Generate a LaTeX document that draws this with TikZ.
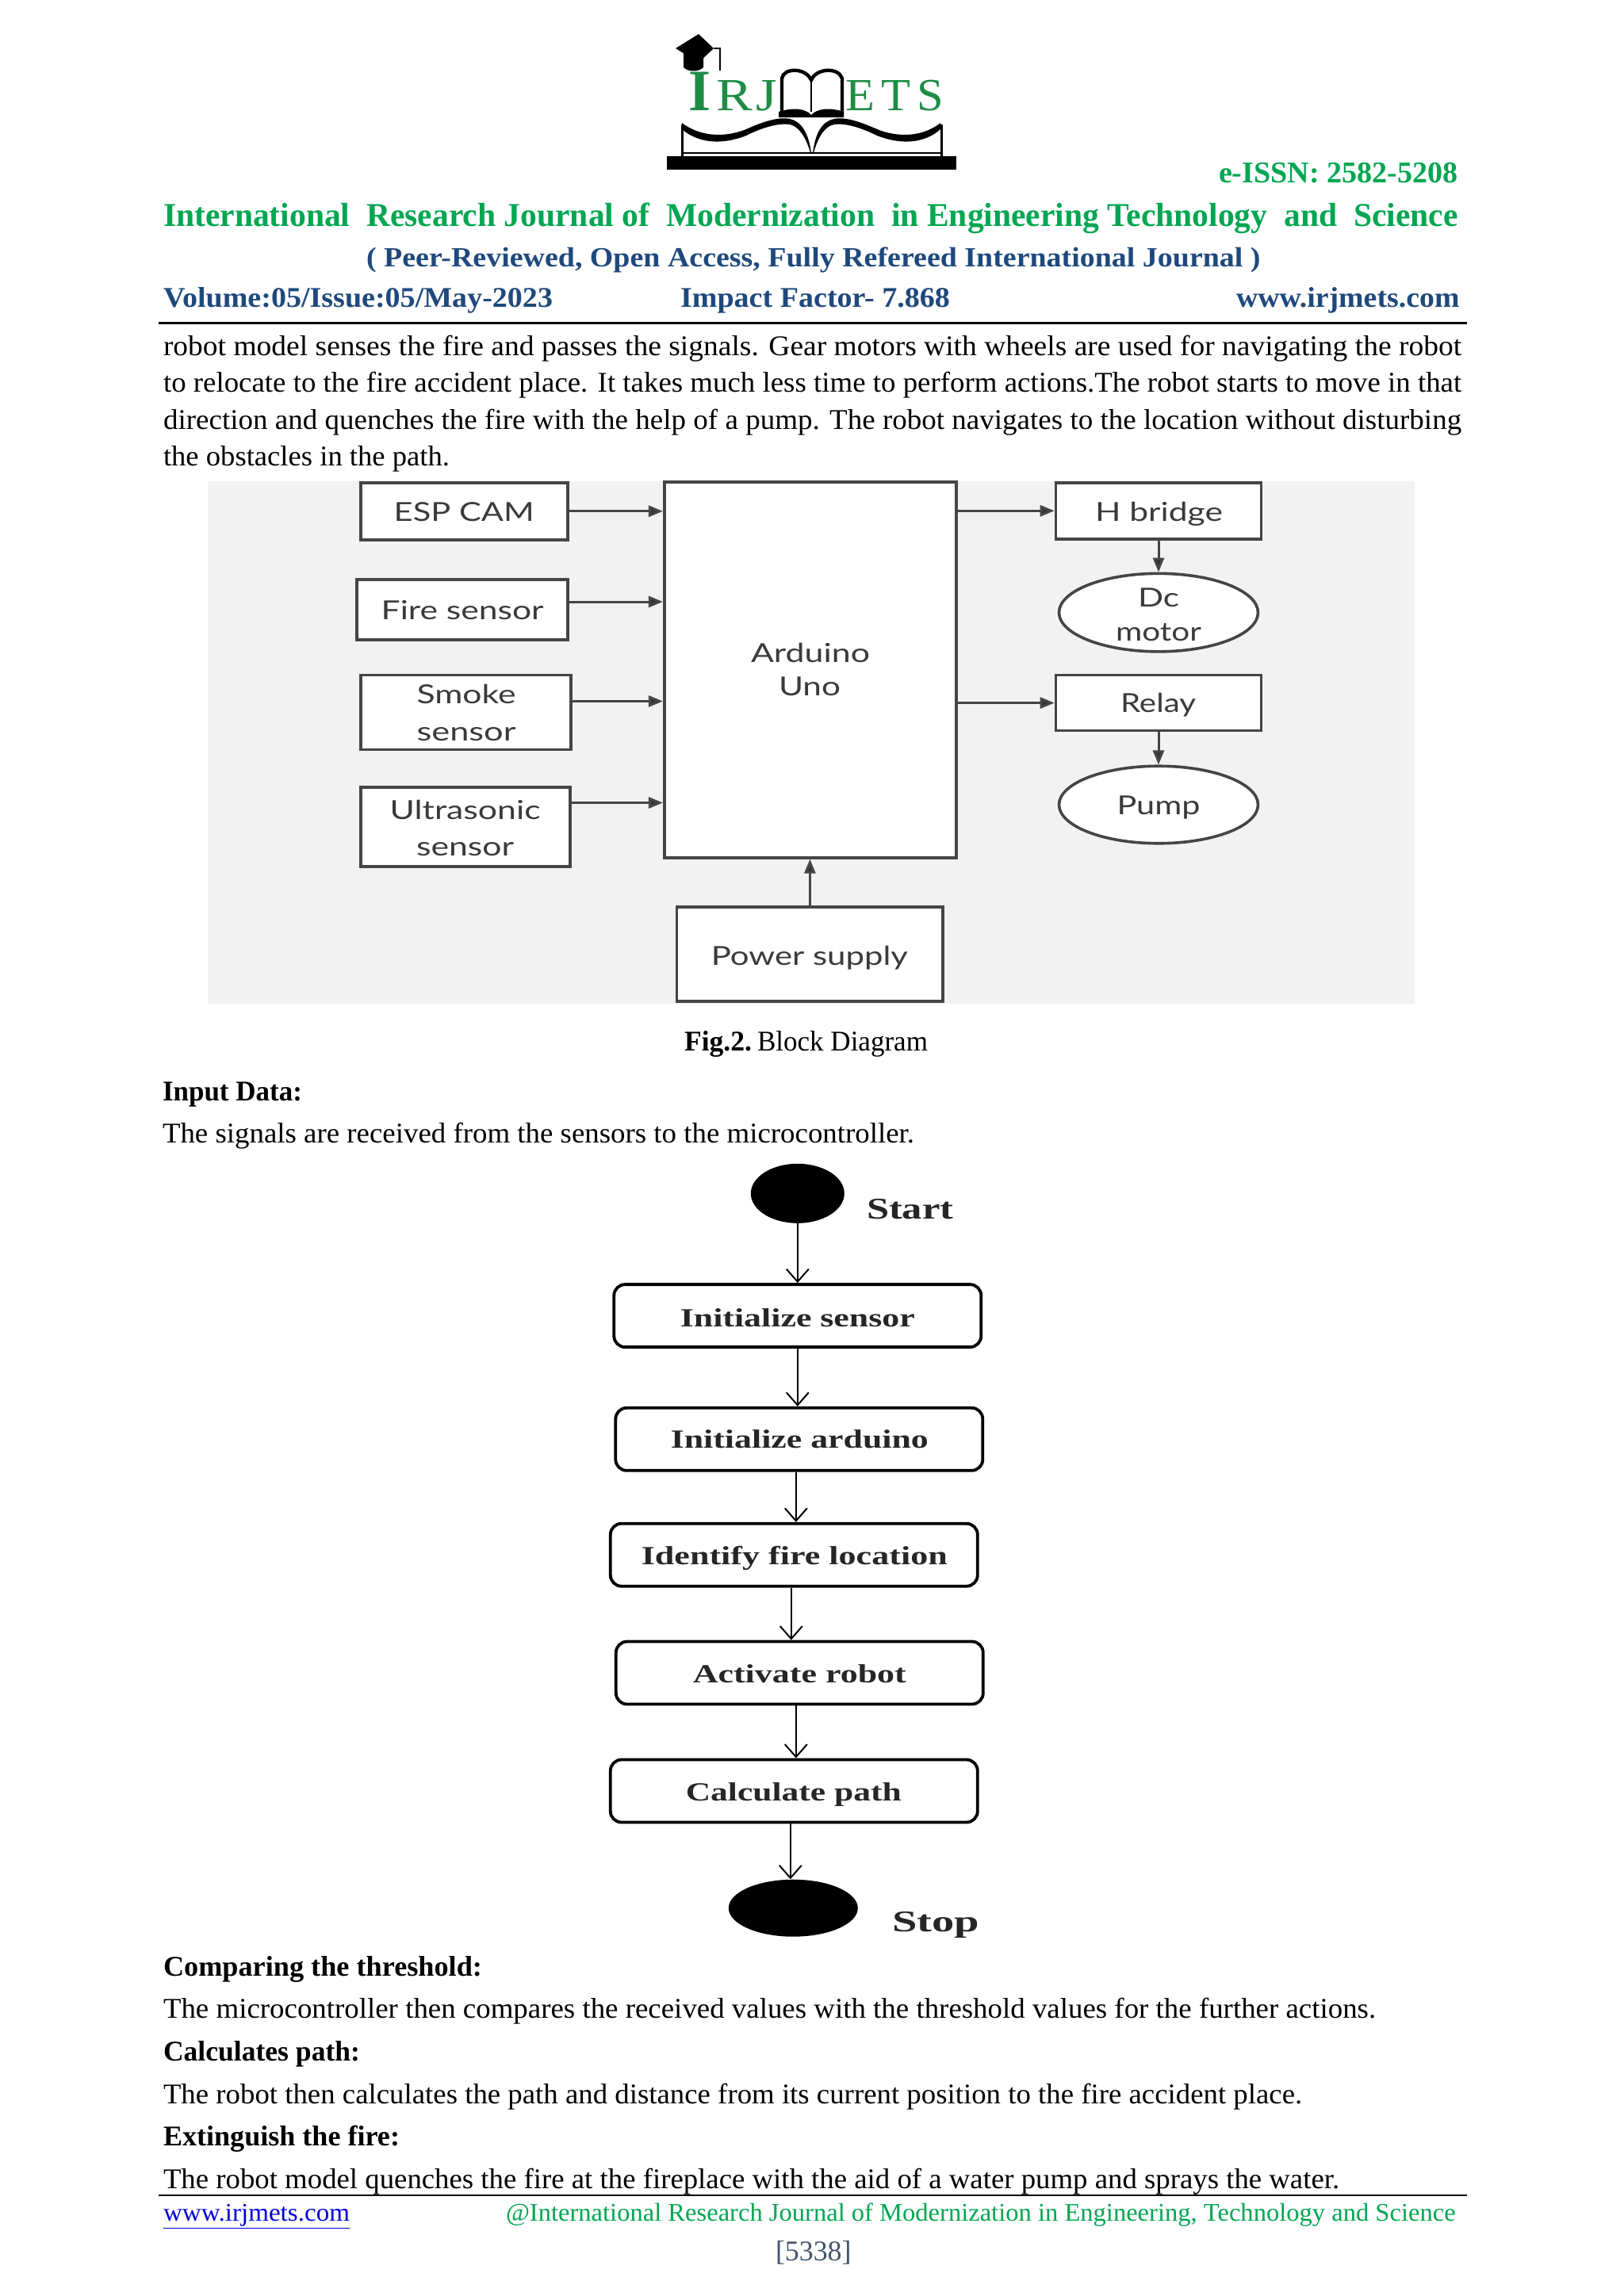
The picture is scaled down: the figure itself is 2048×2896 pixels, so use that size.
\documentclass[tikz,border=0pt]{standalone}
\usepackage{fontspec}
\usepackage{graphicx}
\setmainfont{Liberation Serif}
\newfontfamily\gillish{Lato}
\usetikzlibrary{arrows.meta,shapes.geometric}
\definecolor{hgreen}{HTML}{00A651}
\definecolor{lgreen}{HTML}{1E8C45}
\definecolor{hnavy}{HTML}{1F497D}
\definecolor{pagenum}{HTML}{44546A}
\definecolor{figbg}{HTML}{F2F2F2}
\definecolor{figline}{HTML}{454545}
\definecolor{figtext}{HTML}{3A3A3A}
\newcommand\tx[6]{\node[txt,#5] (#1) at (#2,#4) {\resizebox{\dimexpr(#3pt-#2pt)/2\relax}{\height}{#6}};}
\newcommand\lne[4]{\makebox[0pt][c]{\hspace*{#1pt}\raisebox{\dimexpr#2pt/2\relax}{\resizebox{\dimexpr#3pt/2\relax}{\height}{#4}}}}
\newcommand\fs[1]{\fontsize{#1}{#1}\selectfont}
\tikzset{
  txt/.style={anchor=base west,inner sep=0pt,outer sep=0pt},
  body/.style={font=\fs{18}},
  bodyb/.style={font=\fs{18}\bfseries},
  hdr/.style={font=\fs{18}\bfseries,text=hnavy},
  blk/.style={draw=figline,fill=white,line width=1.8pt,inner sep=0pt,text height=0pt,text depth=0pt,font=\gillish\fs{16.5},text=figtext},
  elp/.style={blk,ellipse},
  arr/.style={draw=figline,line width=1.5pt,-{Triangle[length=9pt,width=7pt,fill=black!80]}},
  flow/.style={draw=black,fill=white,line width=1.9pt,rounded corners=7pt,inner sep=0pt,text height=0pt,text depth=0pt,minimum width=231.5pt,minimum height=39.5pt,font=\fs{16.5}\bfseries,text=black!85},
  term/.style={ellipse,fill=black,inner sep=0pt},
  farr/.style={draw=black,line width=1pt,-{Straight Barb[length=8pt,width=14pt,line width=1pt]}},
}
\begin{document}
\begin{tikzpicture}[x=.5pt,y=-.5pt]
\useasboundingbox (0,0) rectangle (2048,2896);
\fill[white] (0,0) rectangle (2048,2896);
% logo
\begin{scope}[shift={(-4,-1)}]
\fill[black] (885,44) -- (904,62) -- (885,80) -- (856,62) -- cycle;
\fill[black] (866,62) -- (866,86) .. controls (872,92) and (885,92) .. (891,86) -- (891,62) -- cycle;
\draw[black,line width=.8pt] (904,62) -- (912,62) -- (912,90);
\tx{logoI}{872}{900}{140}{font=\fs{37}\bfseries,text=lgreen}{I}
\tx{logoRJ}{907}{984}{140}{font=\fs{29},text=lgreen}{R\kern2pt J}
\tx{logoETS}{1070}{1194}{140}{font=\fs{29},text=lgreen}{E\kern4pt T\kern4pt S}
\draw[black,line width=2.2pt] (990,146) -- (990,100) .. controls (992,86) and (1020,86) .. (1027,102) .. controls (1034,86) and (1062,86) .. (1066,100) -- (1066,146);
\draw[black,line width=1pt] (1027,102) -- (1027,142);
\fill[black] (986,142) .. controls (1005,136) and (1020,138) .. (1027,146) .. controls (1034,138) and (1050,136) .. (1068,142) -- (1068,149) -- (986,149) -- cycle;
\fill[black] (864,156) .. controls (885,172) and (915,176) .. (945,164) .. controls (965,155) and (985,148) .. (1000,151) .. controls (1015,154) and (1024,170) .. (1027,194) -- (1029,194) .. controls (1032,170) and (1040,154) .. (1056,151) .. controls (1070,148) and (1090,155) .. (1110,164) .. controls (1140,176) and (1170,172) .. (1190,156) -- (1190,164) .. controls (1170,182) and (1140,184) .. (1110,172) .. controls (1090,162) and (1070,156) .. (1056,158) .. controls (1045,160) and (1036,172) .. (1030,194) -- (1026,194) .. controls (1020,172) and (1010,160) .. (1000,158) .. controls (985,156) and (965,162) .. (945,172) .. controls (915,184) and (885,182) .. (864,164) -- cycle;
\draw[black,line width=1.5pt] (864,158) -- (864,198) (1191,158) -- (1191,198);
\draw[black,line width=.6pt] (864,194) -- (1191,194);
\fill[black] (845,198) rectangle (1210,215);
\end{scope}
% header
\tx{issn}{1537}{1838.5}{230}{font=\fs{19}\bfseries,text=hgreen}{e-ISSN: 2582-5208}
\tx{journal}{206}{1838.5}{285}{font=\fs{21}\bfseries,text=hgreen}{International\ \ Research Journal of\ \ Modernization\ \ in Engineering Technology\ \ and\ \ Science}
\tx{peer}{462}{1589.5}{336.7}{font=\fs{17.5}\bfseries,text=hnavy}{( Peer-Reviewed, Open Access, Fully Refereed International Journal )}
\tx{vol}{206}{697}{387.5}{hdr}{Volume:05/Issue:05/May-2023}
\tx{impact}{858}{1198}{387.5}{hdr}{Impact Factor- 7.868}
\tx{web}{1559}{1840.5}{387.5}{hdr}{www.irjmets.com}
\draw[black,line width=1.2pt] (200,407.5) -- (1849.5,407.5);
% paragraph
\tx{p1}{206}{1843}{448}{body}{robot model senses the fire and passes the signals. Gear motors with wheels are used for navigating the robot}
\tx{p2}{206}{1843}{494}{body}{to relocate to the fire accident place. It takes much less time to perform actions.The robot starts to move in that}
\tx{p3}{206}{1843}{541}{body}{direction and quenches the fire with the help of a pump. The robot navigates to the location without disturbing}
\tx{p4}{206}{567}{587}{body}{the obstacles in the path.}
% block diagram
\fill[figbg] (262,607) rectangle (1784,1266);
\node[blk,rectangle,minimum width=130.5pt,minimum height=36pt] (esp) at (585.7,644.8) {\lne{-.5}{-13}{177}{ESP CAM}};
\node[blk,rectangle,minimum width=133pt,minimum height=38pt] (fire) at (583.2,769) {\lne{0}{-12}{205}{Fire sensor}};
\node[blk,rectangle,minimum width=132.5pt,minimum height=47pt] (smoke) at (587.6,898.5) {\lne{.5}{11}{125}{Smoke}\lne{.5}{-36}{125}{sensor}};
\node[blk,rectangle,minimum width=132pt,minimum height=50.25pt] (ultra) at (587.1,1043) {\lne{-.5}{9.5}{190}{Ultrasonic}\lne{-.5}{-36.5}{123}{sensor}};
\node[blk,rectangle,minimum width=184.25pt,minimum height=237pt] (ard) at (1022,844.8) {\lne{0}{9}{150}{Arduino}\lne{-1}{-33}{78}{Uno}};
\node[blk,rectangle,minimum width=129.5pt,minimum height=35.5pt] (hb) at (1461,644.3) {\lne{.5}{-13.5}{161}{H bridge}};
\node[blk,rectangle,minimum width=129.5pt,minimum height=35pt] (relay) at (1461,886.6) {\lne{-.5}{-12}{95}{Relay}};
\node[elp,minimum width=125.5pt,minimum height=49.25pt] (dc) at (1461,772.6) {\lne{0}{7.5}{52}{Dc}\lne{0}{-35.5}{108}{motor}};
\node[elp,minimum width=125.5pt,minimum height=48.75pt] (pump) at (1461,1015) {\lne{0}{-12}{105}{Pump}};
\node[blk,rectangle,minimum width=167.75pt,minimum height=59.25pt] (pw) at (1021.4,1203.5) {\lne{-.5}{-13.5}{248}{Power supply}};
\draw[arr] (esp.east) -- (esp.east -| ard.west);
\draw[arr] ([yshift=5pt]fire.east) -- ([yshift=5pt]fire.east -| ard.west);
\draw[arr] ([yshift=7pt]smoke.east) -- ([yshift=7pt]smoke.east -| ard.west);
\draw[arr] ([yshift=15.25pt]ultra.east) -- ([yshift=15.25pt]ultra.east -| ard.west);
\draw[arr] (hb.west -| ard.east) -- (hb.west);
\draw[arr] (relay.west -| ard.east) -- (relay.west);
\draw[arr] (hb.south) -- (dc.north);
\draw[arr] (relay.south) -- (pump.north);
\draw[arr] (pw.north) -- (pw.north |- ard.south);
% caption
\tx{figa}{863}{948}{1325}{bodyb}{Fig.2.}
\tx{figb}{955}{1170}{1325}{body}{Block Diagram}
\tx{inh}{205}{381}{1388}{bodyb}{Input Data:}
\tx{inp}{205}{1153}{1441}{body}{The signals are received from the sensors to the microcontroller.}
% flowchart
\node[term,minimum width=59pt,minimum height=37.5pt] (start) at (1005.8,1505.3) {};
\node[flow] (f1) at (1005.8,1659.6) {\lne{0}{-13.5}{296}{Initialize sensor}};
\node[flow] (f2) at (1007.8,1815.3) {\lne{.5}{-11}{325}{Initialize arduino}};
\node[flow] (f3) at (1001.3,1961.2) {\lne{.5}{-12.5}{386}{Identify fire location}};
\node[flow] (f4) at (1008.3,2110) {\lne{0}{-12}{269}{Activate robot}};
\node[flow] (f5) at (1001.3,2259) {\lne{-.5}{-12.5}{272}{Calculate path}};
\node[term,minimum width=81.5pt,minimum height=36pt] (stop) at (1000.3,2406.7) {};
\tx{startl}{1093}{1202.5}{1537.6}{font=\fs{19}\bfseries,text=black!85}{Start}
\tx{stopl}{1125}{1235}{2436.5}{font=\fs{19}\bfseries,text=black!85}{Stop}
\draw[farr] (start.south) -- (f1.north);
\draw[farr] (f1.south) -- ([xshift=-1pt]f2.north);
\draw[farr] ([xshift=-2pt]f2.south) -- ([xshift=1.25pt]f3.north);
\draw[farr] ([xshift=-1.75pt]f3.south) -- ([xshift=-5.25pt]f4.north);
\draw[farr] ([xshift=-2.25pt]f4.south) -- ([xshift=1.25pt]f5.north);
\draw[farr] ([xshift=-2.25pt]f5.south) -- ([xshift=-1.75pt]stop.north);
% lower text
\tx{c1}{206}{608}{2492}{bodyb}{Comparing the threshold:}
\tx{c2}{206}{1735}{2545}{body}{The microcontroller then compares the received values with the threshold values for the further actions.}
\tx{c3}{206}{454}{2599}{bodyb}{Calculates path:}
\tx{c4}{206}{1642}{2653}{body}{The robot then calculates the path and distance from its current position to the fire accident place.}
\tx{c5}{206}{504}{2706}{bodyb}{Extinguish the fire:}
\tx{c6}{206}{1689}{2760}{body}{The robot model quenches the fire at the fireplace with the aid of a water pump and sprays the water.}
\draw[black,line width=1.2pt] (200,2769) -- (1849.5,2769);
\tx{fw}{206}{441}{2801}{font=\fs{16},text=blue!85!black}{\underline{www.irjmets.com}}
\tx{fj}{638}{1835.5}{2801}{font=\fs{16},text=hgreen}{@International Research Journal of Modernization in Engineering, Technology and Science}
\tx{pg}{978}{1073.5}{2851}{font=\fs{18},text=pagenum}{[5338]}
\end{tikzpicture}
\end{document}
